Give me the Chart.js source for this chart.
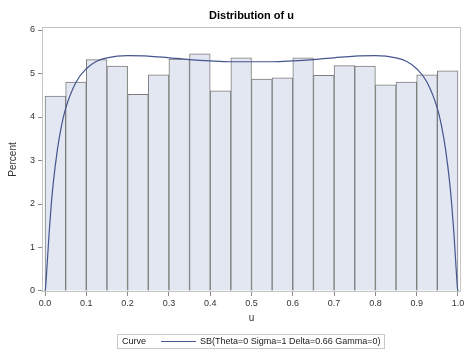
<!DOCTYPE html>
<html>
<head>
<meta charset="utf-8">
<script src="https://cdn.jsdelivr.net/npm/chart.js@4.4.1/dist/chart.umd.min.js"></script>
<style>
  html, body { margin: 0; padding: 0; background: #fff; }
  #wrap { position: relative; width: 474px; height: 355px; }
  #title {
    position: absolute; left: 42px; width: 419px; top: 8px; text-align: center;
    font-family: Arial, "Liberation Sans", sans-serif; font-size: 11px; font-weight: bold;
    line-height: 14px; color: #000;
  }
  #legend {
    position: absolute; left: 117px; top: 334px; width: 266px; height: 13px;
    border: 1px solid #c8c8c8; font-family: Arial, "Liberation Sans", sans-serif;
    font-size: 9px; color: #222; box-sizing: content-box;
  }
  #legend .lbl { position: absolute; left: 4px; top: 0px; line-height: 13px; }
  #legend .ln { position: absolute; left: 43px; top: 6px; width: 35px; height: 0; border-top: 1px solid #44558f; }
  #legend .txt { position: absolute; left: 82px; top: 0px; line-height: 13px; white-space: nowrap; }
</style>
</head>
<body>
<div id="wrap">
  <canvas id="c" width="474" height="355"></canvas>
  <div id="title">Distribution of u</div>
  <div id="legend"><span class="lbl">Curve</span><span class="ln"></span><span class="txt">SB(Theta=0 Sigma=1 Delta=0.66 Gamma=0)</span></div>
</div>
<script>
// Histogram bins (midpoints) and percent values
const binMids = [0.025,0.075,0.125,0.175,0.225,0.275,0.325,0.375,0.425,0.475,
                 0.525,0.575,0.625,0.675,0.725,0.775,0.825,0.875,0.925,0.975];
const binPercent = [4.48,4.80,5.32,5.17,4.52,4.97,5.33,5.45,4.60,5.36,
                    4.87,4.90,5.36,4.96,5.18,5.17,4.74,4.80,4.97,5.06];
// Fitted curve points
const curveX = [0,0.001,0.002,0.005,0.01,0.015,0.02,0.03,0.04,0.05,0.075,0.1,0.125,0.15,0.2,0.25,0.3,0.35,0.4,0.45,0.5,
                0.55,0.6,0.65,0.7,0.75,0.8,0.85,0.875,0.9,0.925,0.95,0.96,0.97,0.98,0.985,0.99,0.995,0.998,0.999,1];
const curveY = [0,0.04,0.15,0.59,1.34,1.97,2.48,3.25,3.80,4.20,4.80,5.11,5.28,5.36,5.41,5.40,5.36,5.32,5.29,5.27,5.27,
                5.27,5.29,5.32,5.36,5.40,5.41,5.36,5.28,5.11,4.80,4.20,3.80,3.25,2.48,1.97,1.34,0.59,0.15,0.04,0];
const xTicks = [0,0.1,0.2,0.3,0.4,0.5,0.6,0.7,0.8,0.9,1.0];
const yTicks = [0,1,2,3,4,5,6];

const FONT = 'Arial, "Liberation Sans", sans-serif';
const frame = {
  id: 'frame',
  afterDraw(chart) {
    const a = chart.chartArea, ctx = chart.ctx;
    ctx.save();
    ctx.strokeStyle = '#c4c4c4';
    ctx.lineWidth = 1;
    ctx.strokeRect(Math.round(a.left) + 0.5, Math.round(a.top) + 0.5,
                   Math.round(a.right - a.left) - 1, Math.round(a.bottom - a.top) - 1);
    ctx.restore();
  }
};

new Chart(document.getElementById('c'), {
  type: 'bar',
  data: {
    datasets: [
      {
        type: 'line',
        data: curveX.map((x, i) => ({x: x, y: curveY[i]})),
        borderColor: '#44558f',
        borderWidth: 1.2,
        pointRadius: 0,
        cubicInterpolationMode: 'monotone',
        fill: false,
        order: 0
      },
      {
        type: 'bar',
        data: binMids.map((x, i) => ({x: x, y: binPercent[i]})),
        backgroundColor: '#e3e7f1',
        borderColor: '#7d7d7d',
        borderWidth: 1,
        barPercentage: 1,
        categoryPercentage: 1,
        order: 1
      }
    ]
  },
  options: {
    responsive: false,
    animation: false,
    layout: { padding: { top: 27, right: 13, bottom: 30, left: 0 } },
    plugins: {
      legend: { display: false },
      tooltip: { enabled: false },
      title: { display: false }
    },
    scales: {
      x: {
        type: 'linear',
        offset: false,
        min: -0.0073,
        max: 1.0073,
        afterBuildTicks: (s) => { s.ticks = xTicks.map(v => ({value: v})); },
        afterFit: (s) => { s.height = 33; },
        ticks: {
          color: '#333',
          font: { family: FONT, size: 9 },
          padding: 2,
          maxRotation: 0,
          autoSkip: false,
          callback: (v) => Number(v).toFixed(1)
        },
        grid: { display: true, offset: false, drawOnChartArea: false, drawTicks: true, tickLength: 4, color: '#8a8a8a' },
        border: { display: false },
        title: { display: true, text: 'u', color: '#333', font: { family: FONT, size: 10 }, padding: { top: 0, bottom: 1 } }
      },
      y: {
        type: 'linear',
        min: -0.023,
        max: 6.069,
        afterBuildTicks: (s) => { s.ticks = yTicks.map(v => ({value: v})); },
        afterFit: (s) => { s.width = 42; },
        ticks: {
          color: '#333',
          font: { family: FONT, size: 9 },
          padding: 3,
          callback: (v) => String(v)
        },
        grid: { display: true, drawOnChartArea: false, drawTicks: true, tickLength: 4, color: '#8a8a8a' },
        border: { display: false },
        title: { display: true, text: 'Percent', color: '#333', font: { family: FONT, size: 10 }, padding: { top: 7.5, bottom: 0 } }
      }
    }
  },
  plugins: [frame]
});
</script>
</body>
</html>
